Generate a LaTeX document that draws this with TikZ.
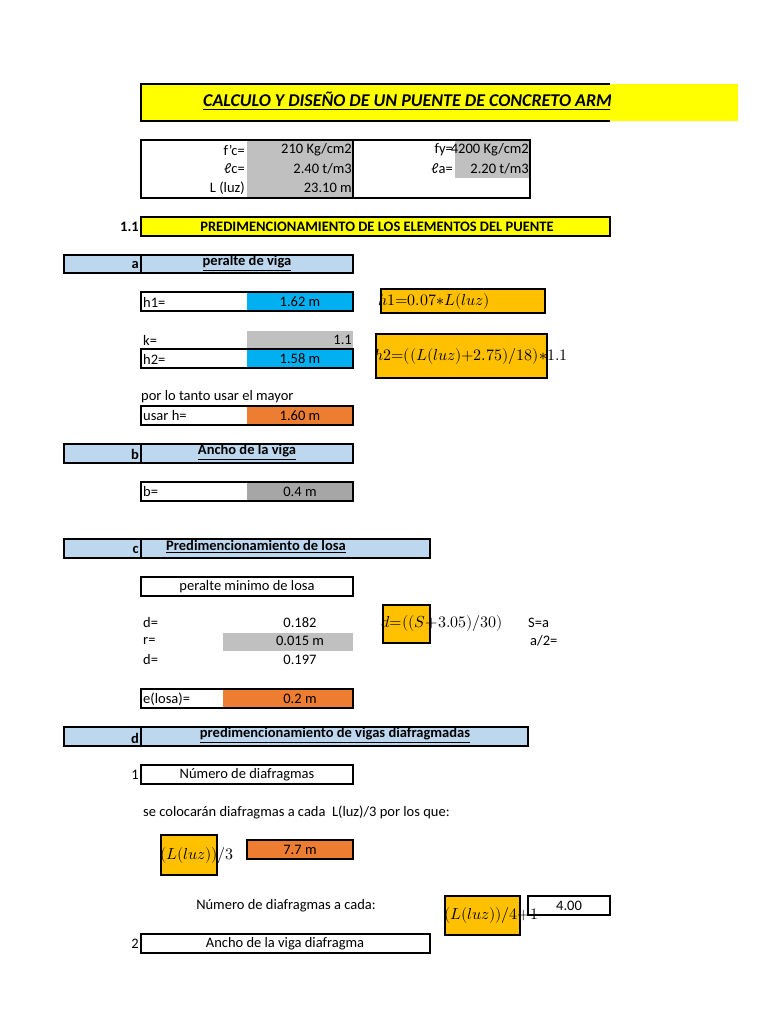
\documentclass[tikz,border=0pt]{standalone}
\usepackage{fontspec}
\usepackage{unicode-math}
\setmainfont{Carlito}
\usetikzlibrary{positioning}
\definecolor{yel}{HTML}{FFFF00}
\definecolor{lblue}{HTML}{BDD7EE}
\definecolor{cyanb}{HTML}{00B0F0}
\definecolor{gold}{HTML}{FFC000}
\definecolor{org}{HTML}{ED7D31}
\definecolor{gry}{HTML}{C0C0C0}
\definecolor{dgry}{HTML}{A6A6A6}
\tikzset{
 cell/.style={draw=black,line width=1.3pt},
 fml/.style={draw=black,line width=2.2pt,fill=gold},
 t/.style={inner sep=0pt,font=\fontsize{14.5}{16}\selectfont},
 tb/.style={t,font=\fontsize{14.5}{16}\selectfont\bfseries},
 tm/.style={inner sep=0pt,font=\fontsize{16}{18}\selectfont},
}
\newcommand{\ul}[1]{\underline{#1}}
\begin{document}
\begin{tikzpicture}[x=1pt,y=-1pt]
\useasboundingbox (0,0) rectangle (768,1024);
\fill[white] (0,0) rectangle (768,1024);
% title
\fill[yel] (141,84) rectangle (738,121);
\draw[line width=1.5pt] (610,84) -- (141,84) -- (141,121) -- (610,121);
\begin{scope}
\clip (141,80) rectangle (610,125);
\node[t,font=\fontsize{18}{20}\selectfont\bfseries\itshape,anchor=west] (title) at (203,101) {\ul{CALCULO Y DISEÑO DE UN PUENTE DE CONCRETO ARMADO}};
\end{scope}
% data table
\fill[gry] (247,141) rectangle (353,198);
\fill[gry] (455,141) rectangle (530,178);
\draw[line width=1.5pt] (141,140) rectangle (530,198) (353,140) -- (353,198);
\node[t,anchor=east] (fcl) at (245,150) {f'c=};
\node[t,anchor=east] (fcv) at (352,150) {210 Kg/cm2};
\node[t,anchor=east] (pcl) at (245,169) {ℓc=};
\node[t,anchor=east] (pcv) at (352,169) {2.40 t/m3};
\node[t,anchor=east] (ll) at (245,188) {L (luz)};
\node[t,anchor=east] (lv) at (352,188) {23.10 m};
\node[t,anchor=east] (fyl) at (453,150) {fy=};
\node[t,anchor=east] (fyv) at (529,150) {4200 Kg/cm2};
\node[t,anchor=east] (pal) at (453,169) {ℓa=};
\node[t,anchor=east] (pav) at (529,169) {2.20 t/m3};
% 1.1
\draw[cell,fill=yel] (141,217) rectangle (610,236);
\node[tb,anchor=east] (n11) at (139,227) {1.1};
\node[tb] (h11) at (377,227) {PREDIMENCIONAMIENTO DE LOS ELEMENTOS DEL PUENTE};
% a
\draw[cell,fill=lblue] (64,255) rectangle (353,273) (141,255) -- (141,273);
\node[tb,anchor=east] (na) at (139,265) {a};
\node[tb] (ha) at (247,263) {\ul{peralte de viga}};
% h1
\fill[cyanb] (247,292) rectangle (353,311);
\draw[cell] (141,292) rectangle (353,311);
\node[t,anchor=west] (h1l) at (143,302) {h1=};
\node[t] (h1v) at (300,302) {1.62 m};
\draw[fml] (381,289) rectangle (545,313);
\node[tm,anchor=west] (f1) at (378,301) {$h1{=}0.07{*}L(luz)$};
% k, h2
\fill[gry] (247,331) rectangle (353,349);
\node[t,anchor=west] (kl) at (143,340) {k=};
\node[t,anchor=east] (kv) at (352,340) {1.1};
\fill[cyanb] (247,349) rectangle (353,368);
\draw[cell] (141,349) rectangle (353,368);
\node[t,anchor=west] (h2l) at (143,359) {h2=};
\node[t] (h2v) at (300,359) {1.58 m};
\draw[fml] (376,334) rectangle (547,378);
\node[tm,anchor=west] (f2) at (374,356) {$h2{=}((L(luz){+}2.75)/18){*}1.1$};
% usar
\node[t,anchor=west] (por) at (141,397) {por lo tanto usar el mayor};
\fill[org] (247,406) rectangle (353,425);
\draw[cell] (141,406) rectangle (353,425);
\node[t,anchor=west] (ul) at (143,416) {usar h=};
\node[t] (uv) at (300,416) {1.60 m};
% b
\draw[cell,fill=lblue] (64,444) rectangle (353,463) (141,444) -- (141,463);
\node[tb,anchor=east] (nb) at (139,454) {b};
\node[tb] (hb) at (247,452) {\ul{Ancho de la viga}};
\fill[dgry] (247,482) rectangle (353,501);
\draw[cell] (141,482) rectangle (353,501);
\node[t,anchor=west] (bl) at (143,492) {b=};
\node[t] (bv) at (300,492) {0.4 m};
% c
\draw[cell,fill=lblue] (64,539) rectangle (430,558) (141,539) -- (141,558);
\node[tb,anchor=east] (nc) at (139,550) {c};
\node[tb] (hc) at (256,547) {\ul{Predimencionamiento de losa}};
\draw[cell] (141,577) rectangle (353,596);
\node[t] (pml) at (247,587) {peralte minimo de losa};
\node[t,anchor=west] (d1l) at (143,623) {d=};
\node[t] (d1v) at (300,623) {0.182};
\fill[gry] (223,633) rectangle (353,651);
\node[t,anchor=west] (rl) at (143,641) {r=};
\node[t] (rv) at (300,641) {0.015 m};
\node[t,anchor=west] (d2l) at (143,660) {d=};
\node[t] (d2v) at (300,660) {0.197};
\draw[fml] (383,605) rectangle (430,643);
\node[tm,anchor=west] (fd) at (381,623) {$d{=}((S{+}3.05)/30)$};
\node[t,anchor=west] (sa) at (528,623) {S=a};
\node[t,anchor=west] (a2) at (530,641) {a/2=};
\fill[org] (223,689) rectangle (353,708);
\draw[cell] (141,689) rectangle (353,708);
\node[t,anchor=west] (el) at (143,699) {e(losa)=};
\node[t] (ev) at (300,699) {0.2 m};
% d
\draw[cell,fill=lblue] (64,727) rectangle (528,746) (141,727) -- (141,746);
\node[tb,anchor=east] (nd) at (139,738) {d};
\node[tb] (hd) at (335,735) {\ul{predimencionamiento de vigas diafragmadas}};
\node[t,anchor=east] (n1) at (139,775) {1};
\draw[cell] (141,765) rectangle (353,784);
\node[t] (nddl) at (247,775) {Número de diafragmas};
\node[t,anchor=west] (se) at (143,812) {se colocarán diafragmas a cada\ \ L(luz)/3 por los que:};
\draw[fml] (161,835) rectangle (217,875);
\node[tm,anchor=west] (f3) at (160,855) {$(L(luz))/3$};
\draw[cell,fill=org] (247,840) rectangle (353,859);
\node[t] (v77) at (300,850) {7.7 m};
\node[t] (ndc) at (286,906) {Número de diafragmas a cada:};
\draw[fml] (445,896) rectangle (520,935);
\node[tm,anchor=west] (f4) at (444,915) {$(L(luz))/4{+}1$};
\draw[cell] (528,896) rectangle (610,915);
\node[t] (v4) at (569,906) {4.00};
\node[t,anchor=east] (n2) at (139,944) {2};
\draw[cell] (141,934) rectangle (430,953);
\node[t] (avd) at (285,944) {Ancho de la viga diafragma};
\end{tikzpicture}
\end{document}
